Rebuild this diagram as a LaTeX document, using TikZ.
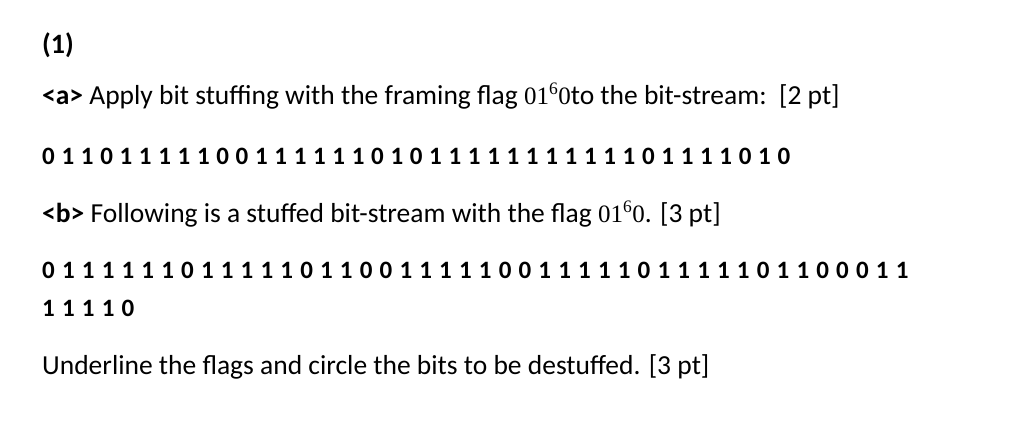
\documentclass[tikz,border=0pt]{standalone}
\usepackage{fontspec}
\setmainfont{Carlito}
\newfontfamily\serf{Liberation Serif}
\begin{document}
\begin{tikzpicture}[x=1pt,y=-1pt,txt/.style={anchor=base west,inner sep=0pt,font=\fontsize{27.5}{30}\selectfont},bit/.style={anchor=base west,inner sep=0pt,font=\fontsize{25}{30}\selectfont\bfseries}]
\useasboundingbox (0,0) rectangle (1024,444);
\node[txt,font=\fontsize{28}{30}\selectfont\bfseries] (t1) at (42,54) {(1)};
\node[txt] (ta) at (42,104) {\textbf{<a>} Apply bit stuffing with the framing flag {\serf\fontsize{25}{30}\selectfont 01\textsuperscript{6}0}to the bit-stream:\ \ [2 pt]};
\foreach[count=\i from 0] \b in {0,1,1,0,1,1,1,1,1,0,0,1,1,1,1,1,1,0,1,0,1,1,1,1,1,1,1,1,1,1,1,0,1,1,1,1,0,1,0}
  \node[bit] (a\i) at (42+19.35*\i,164) {\b};
\node[txt] (tb) at (42,222) {\textbf{<b>} Following is a stuffed bit-stream with the flag {\serf\fontsize{25}{30}\selectfont 01\textsuperscript{6}0}. [3 pt]};
\foreach[count=\i from 0] \b in {0,1,1,1,1,1,1,0,1,1,1,1,1,0,1,1,0,0,1,1,1,1,1,0,0,1,1,1,1,1,0,1,1,1,1,1,0,1,1,0,0,0,1,1}
  \node[bit] (b\i) at (42+19.85*\i,278) {\b};
\foreach[count=\i from 0] \b in {1,1,1,1,0}
  \node[bit] (c\i) at (42+19.85*\i,316) {\b};
\node[txt] (tc) at (42,374) {Underline the flags and circle the bits to be destuffed. [3 pt]};
\end{tikzpicture}
\end{document}
